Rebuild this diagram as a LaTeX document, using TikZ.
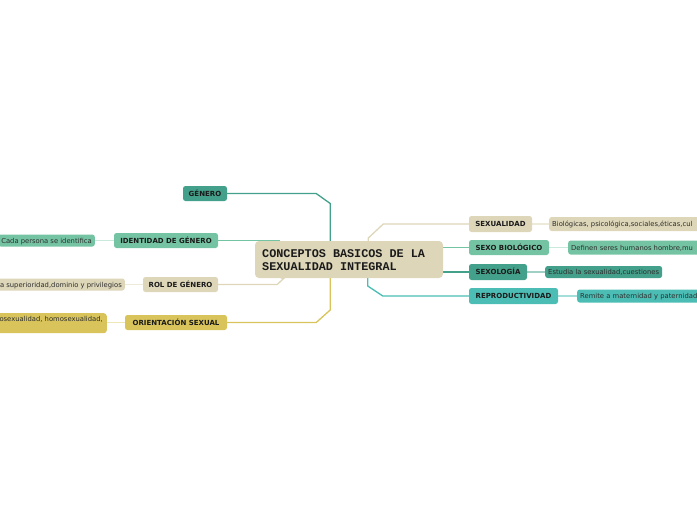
\documentclass[tikz,border=0pt]{standalone}
\usepackage{fontspec}
\setmainfont{DejaVu Sans}
\newfontfamily\monof{Liberation Mono}
\usetikzlibrary{backgrounds}
\definecolor{cdark}{HTML}{43A08A}
\definecolor{cmid}{HTML}{74C4A4}
\definecolor{cbeige}{HTML}{DDD6B9}
\definecolor{cyel}{HTML}{D8C45B}
\definecolor{ccyan}{HTML}{4CBDB4}
\definecolor{lmid}{HTML}{C8E9DC}
\definecolor{lbeige}{HTML}{EEEADA}
\definecolor{lyel}{HTML}{EFE6B8}
\definecolor{ldark}{HTML}{9FD0C3}
\definecolor{lcyan}{HTML}{A6DEDA}
\definecolor{ctext}{HTML}{1A1A1A}
\definecolor{ctxt}{HTML}{2E2E2E}
\tikzset{
  lbl/.style={rounded corners=2.5pt, inner sep=0pt, font=\fontsize{7}{8}\selectfont\bfseries, text=ctext, text height=5.1pt, text depth=0pt},
  child/.style={rounded corners=2.5pt, inner xsep=3pt, inner ysep=0pt, font=\fontsize{6.8}{8}\selectfont, text=ctxt, text height=5.4pt, text depth=0.4pt},
  main/.style={line width=1.3pt},
  sub/.style={line width=1.6pt},
}
\begin{document}
\begin{tikzpicture}[x=1pt,y=-1pt]
\useasboundingbox (0,0) rectangle (697,520);
\clip (0,0) rectangle (697,520);
% central
\node[rounded corners=4pt, fill=cbeige, minimum width=188pt, minimum height=37pt, inner sep=0pt] (central) at (349,259.5) {};
\node[anchor=west, inner sep=0pt, align=left, font=\monof\fontsize{11.8}{12.8}\selectfont\bfseries, text=ctext] (ctitle) at (262,260) {CONCEPTOS BASICOS DE LA\\SEXUALIDAD INTEGRAL};
% left
\node[lbl, fill=cdark, minimum width=44pt, minimum height=15pt] (gen) at (205,193.5) {GÉNERO};
\node[lbl, fill=cmid, minimum width=104pt, minimum height=15pt] (ident) at (166,240.5) {IDENTIDAD DE GÉNERO};
\node[child, fill=cmid, minimum height=12pt, anchor=east] (identc) at (95,240.5) {Cada persona se identifica};
\node[lbl, fill=cbeige, minimum width=75pt, minimum height=15pt] (rol) at (180.5,284.5) {ROL DE GÉNERO};
\node[child, fill=cbeige, minimum height=12pt, anchor=east] (rolc) at (125,284.5) {a superioridad,dominio y privilegios};
\node[lbl, fill=cyel, minimum width=102pt, minimum height=15pt] (ori) at (176,322.5) {ORIENTACIÓN SEXUAL};
\node[rounded corners=3pt, fill=cyel, minimum width=130pt, minimum height=20pt, inner sep=0pt, anchor=north east] (oric) at (107,313) {};
\node[child, anchor=east, inner xsep=0pt] (orict) at (103,319) {osexualidad, homosexualidad,};
% right
\node[lbl, fill=cbeige, minimum width=63pt, minimum height=16pt] (sexu) at (500.5,224) {SEXUALIDAD};
\node[child, fill=cbeige, minimum height=14pt, anchor=west] (sexuc) at (549,224) {Biológicas, psicológica,sociales,éticas,cul\rule{10pt}{0pt}};
\node[lbl, fill=cmid, minimum width=80pt, minimum height=15pt] (sexb) at (509,247.5) {SEXO BIOLÓGICO};
\node[child, fill=cmid, minimum height=14pt, anchor=west] (sexbc) at (568,247.5) {Definen seres humanos hombre,mu\rule{10pt}{0pt}};
\node[lbl, fill=cdark, minimum width=58pt, minimum height=16pt] (sexo) at (498,272) {SEXOLOGÍA};
\node[child, fill=cdark, minimum height=12pt, anchor=west] (sexoc) at (545,272) {Estudia la sexualidad,cuestiones};
\node[lbl, fill=ccyan, minimum width=89pt, minimum height=16pt] (rep) at (513.5,296) {REPRODUCTIVIDAD};
\node[child, fill=ccyan, minimum height=13pt, anchor=west] (repc) at (577,296) {Remite a maternidad y paternidad\rule{10pt}{0pt}};
\begin{scope}[on background layer]
\draw[main, cdark] (gen.east) -- ++(89,0) -- ++(14,10) -- ++(0,60);
\draw[main, cmid] (ident.east) -- ++(62,0);
\draw[main, cbeige] (rol.east) -- ++(59,0) -- ++(8,-7.5) -- (central);
\draw[main, cyel] (ori.east) -- ++(89,0) -- ++(14,-12.5) -- ++(0,-50);
\draw[main, cbeige] (sexu.west) -- ++(-85.5,0) -- ++(-15,14) -- ++(0,15);
\draw[main, cmid] (sexb.west) -- ++(-40,0);
\draw[main, cdark] (sexo.west) -- ++(-40,0);
\draw[main, ccyan] (rep.west) -- ++(-86,0) -- ++(-15,-10) -- ++(0,-20);
\draw[sub, lmid] (identc.east) -- (ident.west);
\draw[sub, lbeige] (rolc.east) -- (rol.west);
\draw[sub, lyel] (oric.east |- ori.west) -- (ori.west);
\draw[sub, lbeige] (sexu.east) -- (sexuc.west);
\draw[sub, lmid] (sexb.east) -- (sexbc.west);
\draw[sub, ldark] (sexo.east) -- (sexoc.west);
\draw[sub, lcyan] (rep.east) -- (repc.west);
\end{scope}
\end{tikzpicture}
\end{document}
